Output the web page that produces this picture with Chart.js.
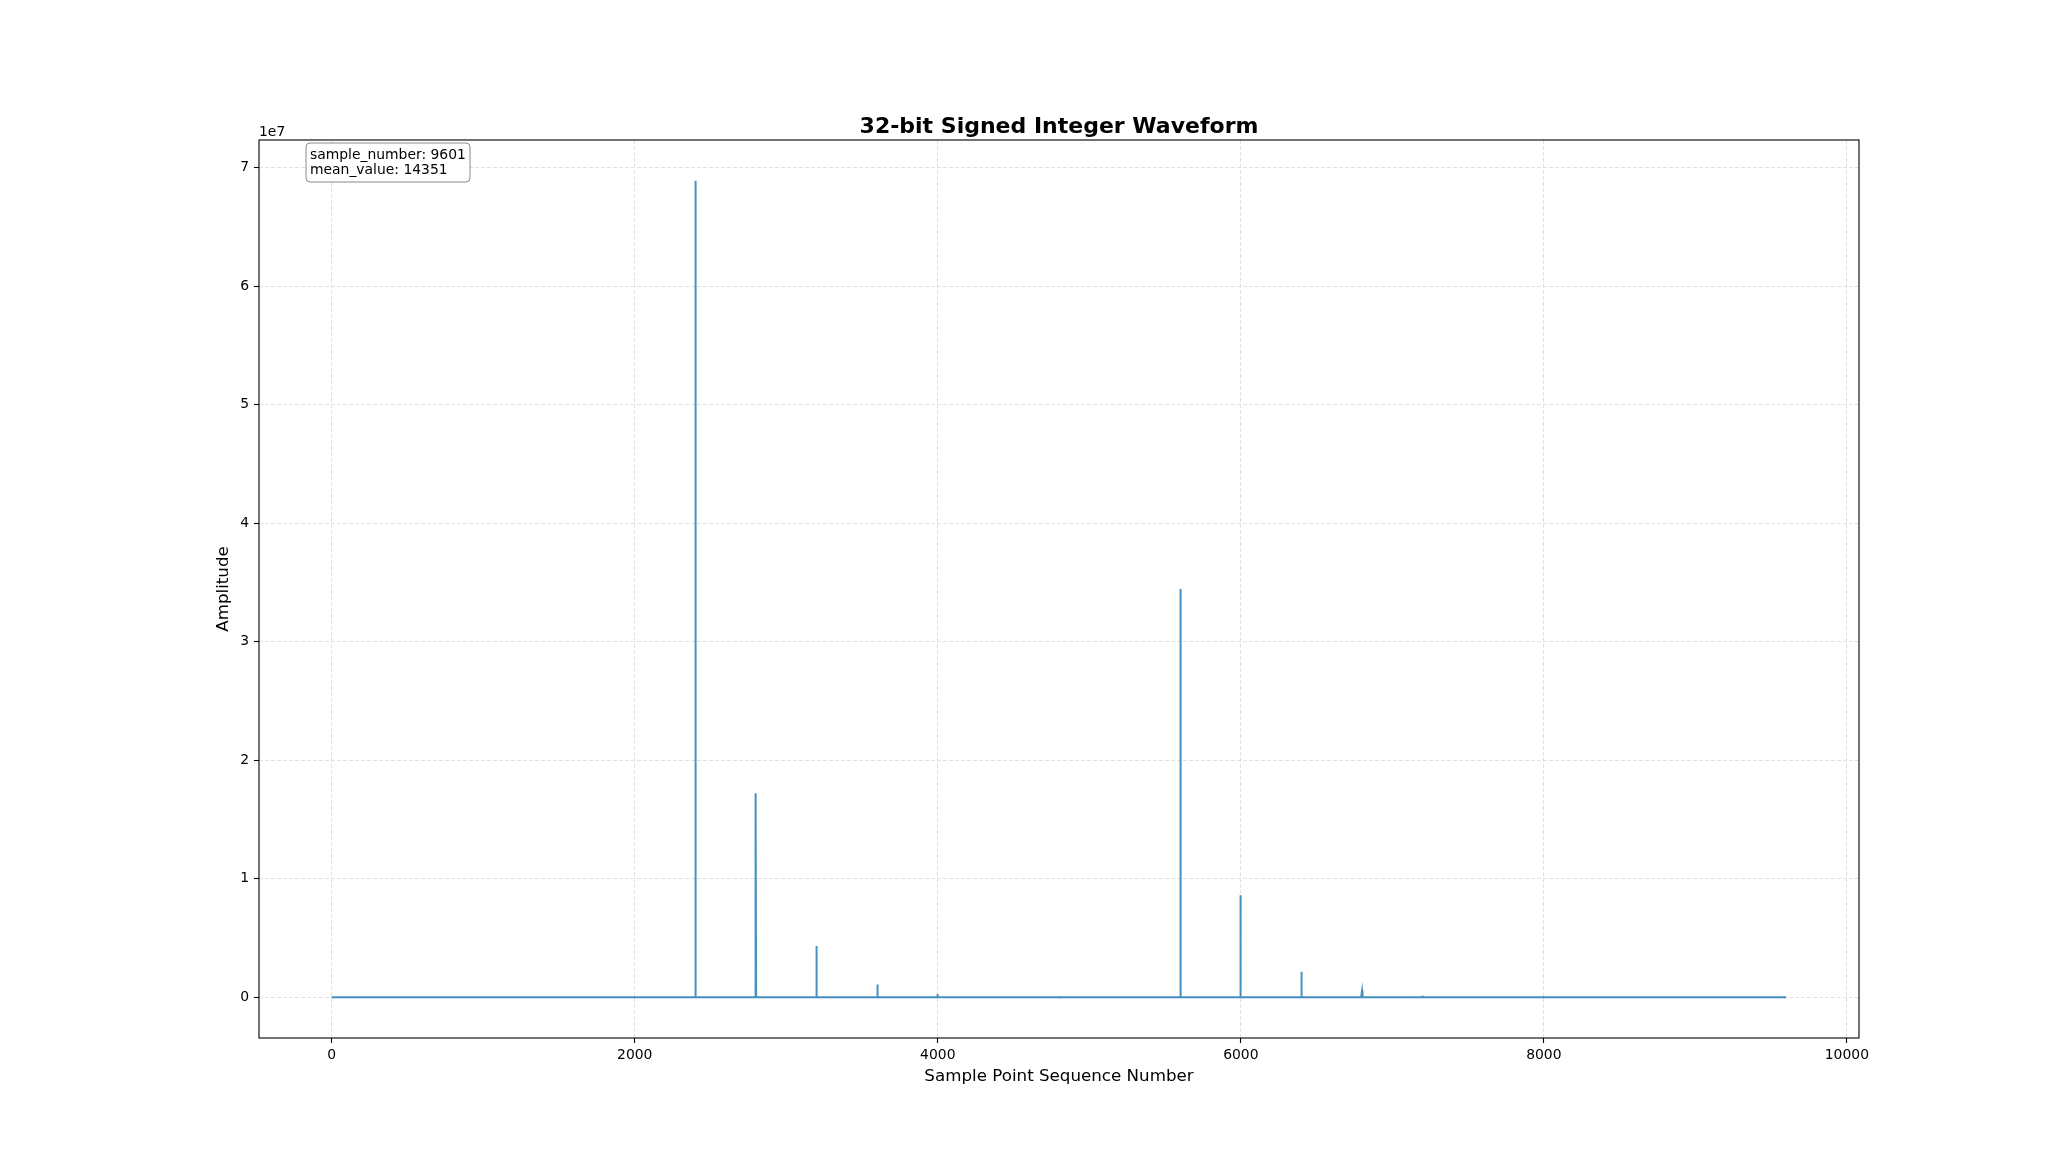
<!DOCTYPE html>
<html>
<head>
<meta charset="utf-8">
<script src="https://cdn.jsdelivr.net/npm/chart.js@4/dist/chart.umd.min.js"></script>
<style>
  html, body { margin: 0; padding: 0; background: #fff; }
</style>
</head>
<body>
<canvas id="waveChart" width="2066" height="1166"></canvas>
<script>
// data
const sampleCount = 9601;
const baselineValue = 0;
const spikePositions = [2400, 2800, 3200, 3600, 4000, 4400, 4800, 5200,
                        5600, 6000, 6400, 6800, 7200, 7600, 8000, 8400];
const spikeValues = [68900000, 17220000, 4310000, 1077000, 269000, 67000, 17000, 4200,
                     34450000, 8610000, 2150000, 538000, 135000, 34000, 8400, 2100];

const xTickValues = [0, 2000, 4000, 6000, 8000, 10000];
const xTickLabels = ['0', '2000', '4000', '6000', '8000', '10000'];
const yTickValues = [0, 1e7, 2e7, 3e7, 4e7, 5e7, 6e7, 7e7];
const yTickLabels = ['0', '1', '2', '3', '4', '5', '6', '7'];

const infoLines = ['sample_number: 9601', 'mean_value: 14351'];

const buildPoints = () => {
    const pts = [];
    for (let i = 0; i < sampleCount; i++) pts.push({x: i, y: baselineValue});
    spikePositions.forEach((p, k) => { pts[p].y = spikeValues[k]; });
    return pts;
};

const FONT = '"DejaVu Sans", "Liberation Sans", sans-serif';

// title, axis labels, frame, offset text and info box
const decorations = {
    id: 'decorations',
    afterDraw(chart) {
        const {ctx, chartArea: a} = chart;
        ctx.save();

        ctx.strokeStyle = '#000';
        ctx.lineWidth = 1.1;
        ctx.strokeRect(a.left, a.top, a.right - a.left, a.bottom - a.top);

        const cx = (a.left + a.right) / 2;
        ctx.fillStyle = '#000';
        ctx.textAlign = 'center';
        ctx.textBaseline = 'middle';
        ctx.font = 'bold 22px ' + FONT;
        ctx.fillText('32-bit Signed Integer Waveform', cx, 127);

        ctx.font = '16.7px ' + FONT;
        ctx.fillText('Sample Point Sequence Number', cx, 1076.5);

        ctx.save();
        ctx.translate(224, (a.top + a.bottom) / 2);
        ctx.rotate(-Math.PI / 2);
        ctx.fillText('Amplitude', 0, 0);
        ctx.restore();

        ctx.font = '13.9px ' + FONT;
        ctx.textAlign = 'left';
        ctx.textBaseline = 'alphabetic';
        ctx.fillText('1e7', a.left, 136);

        // info box
        const bx = 306, by = 143, bw = 164, bh = 39, r = 4;
        ctx.beginPath();
        ctx.moveTo(bx + r, by);
        ctx.arcTo(bx + bw, by, bx + bw, by + bh, r);
        ctx.arcTo(bx + bw, by + bh, bx, by + bh, r);
        ctx.arcTo(bx, by + bh, bx, by, r);
        ctx.arcTo(bx, by, bx + bw, by, r);
        ctx.closePath();
        ctx.fillStyle = 'rgba(255,255,255,0.85)';
        ctx.fill();
        ctx.strokeStyle = '#8a8a8a';
        ctx.lineWidth = 1;
        ctx.stroke();

        ctx.fillStyle = '#000';
        ctx.textBaseline = 'middle';
        ctx.fillText(infoLines[0], 310, 155);
        ctx.fillText(infoLines[1], 310, 170.5);

        ctx.restore();
    }
};

const gridOpts = {
    color: '#e2e2e2',
    lineWidth: 1,
    drawTicks: true,
    tickLength: 5,
    tickColor: '#000',
    tickWidth: 1.1,
    tickBorderDash: []
};

const renderChart = (points) => {
    const ctx = document.getElementById('waveChart').getContext('2d');
    new Chart(ctx, {
        type: 'line',
        data: {
            datasets: [{
                label: 'waveform',
                data: points,
                borderColor: 'rgba(31, 119, 180, 0.82)',
                borderWidth: 2,
                pointRadius: 0,
                tension: 0,
                fill: false
            }]
        },
        options: {
            responsive: false,
            animation: false,
            devicePixelRatio: 1,
            parsing: false,
            normalized: true,
            layout: { padding: { left: 0, right: 207, top: 140, bottom: 0 } },
            plugins: {
                legend: { display: false },
                title: { display: false },
                tooltip: { enabled: false }
            },
            scales: {
                x: {
                    type: 'linear',
                    min: -480,
                    max: 10080,
                    grid: gridOpts,
                    border: { display: false, dash: [4, 2] },
                    afterBuildTicks: s => { s.ticks = xTickValues.map(v => ({value: v})); },
                    afterFit: s => { s.height = 128; },
                    ticks: {
                        autoSkip: false,
                        maxRotation: 0,
                        padding: 4,
                        color: '#000',
                        font: { family: FONT, size: 13.9 },
                        callback: v => xTickLabels[xTickValues.indexOf(v)]
                    }
                },
                y: {
                    type: 'linear',
                    min: -3445000,
                    max: 72345000,
                    grid: gridOpts,
                    border: { display: false, dash: [4, 2] },
                    afterBuildTicks: s => { s.ticks = yTickValues.map(v => ({value: v})); },
                    afterFit: s => { s.width = 259; },
                    ticks: {
                        autoSkip: false,
                        padding: 5,
                        color: '#000',
                        font: { family: FONT, size: 13.9 },
                        callback: v => yTickLabels[yTickValues.indexOf(v)]
                    }
                }
            }
        },
        plugins: [decorations]
    });
};

renderChart(buildPoints());
</script>
</body>
</html>
